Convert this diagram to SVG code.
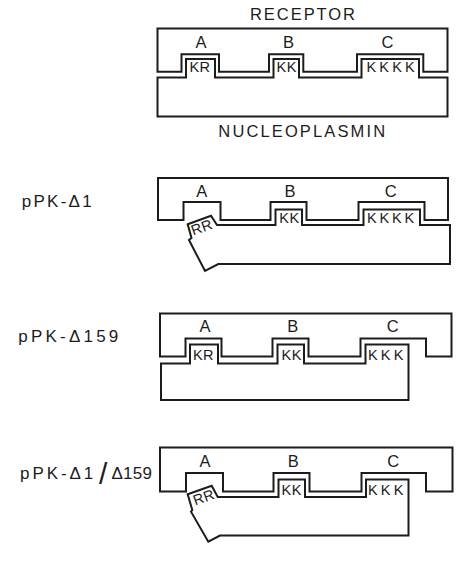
<svg xmlns="http://www.w3.org/2000/svg" width="474" height="566" viewBox="0 0 474 566">
<style>
.shape{fill:none;stroke:#1c1c1c;stroke-width:2;stroke-linejoin:miter}
text{font-family:"Liberation Sans",Arial,sans-serif;fill:#1c1c1c}
.big{font-size:16.5px}
.site{font-size:16.5px;text-anchor:middle}
.tab{font-size:14.5px}
.lab{font-size:17px}
</style>
<rect width="474" height="566" fill="#ffffff"/>

<g id="panel1">
  <g id="receptor1">
    <path class="shape" d="M157.5,28.5 H447.5 V71.7 H423.3 V54.3 H357 V71.7 H303.3 V54.3 H269 V71.7 H219 V54.3 H181.5 V71.7 H157.5 Z"/>
    <text class="big" x="302.5" y="20" text-anchor="middle" textLength="105" lengthAdjust="spacing">RECEPTOR</text>
    <text class="site" x="201" y="48.3">A</text>
    <text class="site" x="288.5" y="48.3">B</text>
    <text class="site" x="387.5" y="48.3">C</text>
  </g>
  <g id="nucleoplasmin1">
    <path class="shape" d="M157.5,77.5 H186 V59 H215 V77.5 H273.5 V59 H299 V77.5 H361.5 V59 H419 V77.5 H447.5 V116.5 H157.5 Z"/>
    <text class="tab" x="189.5" y="72.3" letter-spacing="0.3">KR</text>
    <text class="tab" x="276.5" y="72.3" letter-spacing="0.5">KK</text>
    <text class="tab" x="366.5" y="72.3" letter-spacing="3.2">KKKK</text>
    <text class="big" x="301.7" y="136.5" text-anchor="middle" textLength="166.7" lengthAdjust="spacing">NUCLEOPLASMIN</text>
  </g>
</g>

<g id="panel2">
  <text class="lab" x="21.7" y="206.5" textLength="70" lengthAdjust="spacing">pPK-Δ1</text>
  <g id="receptor2">
    <path class="shape" d="M158,178 H448 V220 H424.5 V202 H358.5 V220 H306.5 V202 H270.5 V220 H220.5 V202 H183.5 V220 H158 Z"/>
    <text class="site" x="201.7" y="197.3">A</text>
    <text class="site" x="290" y="197.3">B</text>
    <text class="site" x="390.7" y="197.3">C</text>
  </g>
  <g id="nucleoplasmin2">
    <path class="shape" d="M187.7,224.3 L211,215.7 L217,225 H275.5 V209.5 H302 V225 H363.5 V209.5 H420 V225 H450 V264 H218.3 L205,271 L189,240 L191.5,238 Z"/>
    <text class="tab" transform="translate(201,227.5) rotate(-20)" x="-10" y="5" letter-spacing="0.4">RR</text>
    <text class="tab" x="279.3" y="222.5" letter-spacing="0.5">KK</text>
    <text class="tab" x="367" y="222.5" letter-spacing="2.8">KKKK</text>
  </g>
</g>

<g id="panel3">
  <text class="lab" x="18.3" y="342" textLength="100" lengthAdjust="spacing">pPK-Δ159</text>
  <g id="receptor3">
    <path class="shape" d="M160,313.5 H451.5 V356.5 H426 V338.5 H360.5 V356.5 H308.5 V338.5 H272.5 V356.5 H221.5 V338.5 H185.5 V356.5 H160 Z"/>
    <text class="site" x="205" y="332.3">A</text>
    <text class="site" x="292.7" y="332.3">B</text>
    <text class="site" x="392.7" y="332.3">C</text>
  </g>
  <g id="nucleoplasmin3">
    <path class="shape" d="M161,363.5 H190 V344.5 H218 V363.5 H277.5 V344.5 H304 V363.5 H365.5 V344.5 H408.5 V400 H161 Z"/>
    <text class="tab" x="193" y="360" letter-spacing="0.3">KR</text>
    <text class="tab" x="281.5" y="360" letter-spacing="0.5">KK</text>
    <text class="tab" x="368" y="360" letter-spacing="3.2">KKK</text>
  </g>
</g>

<g id="panel4">
  <text class="lab" x="20" y="478.5" textLength="73.3" lengthAdjust="spacing">pPK-Δ1</text>
  <text x="99" y="484" font-size="30">/</text>
  <text class="lab" x="111.5" y="478.5" textLength="40.5" lengthAdjust="spacing">Δ159</text>
  <g id="receptor4">
    <path class="shape" d="M160,447.5 H452.5 V491.5 H426 V473 H361.5 V491.5 H309.5 V473 H273.5 V491.5 H223 V473 H186 V491.5 H160 Z"/>
    <text class="site" x="205" y="466.7">A</text>
    <text class="site" x="293.3" y="466.7">B</text>
    <text class="site" x="393.3" y="466.7">C</text>
  </g>
  <g id="nucleoplasmin4">
    <path class="shape" d="M187.7,494.3 L211.7,485.7 L217.7,497 H278.5 V479.5 H305 V497 H366 V479.5 H408.5 V535.5 H220 L208.3,541.7 L191,511.7 L192.3,510 Z"/>
    <text class="tab" transform="translate(203,497.5) rotate(-20)" x="-10" y="5" letter-spacing="0.4">RR</text>
    <text class="tab" x="281.5" y="495" letter-spacing="0.5">KK</text>
    <text class="tab" x="368" y="495" letter-spacing="3.2">KKK</text>
  </g>
</g>

<g id="connectors"></g>
</svg>
